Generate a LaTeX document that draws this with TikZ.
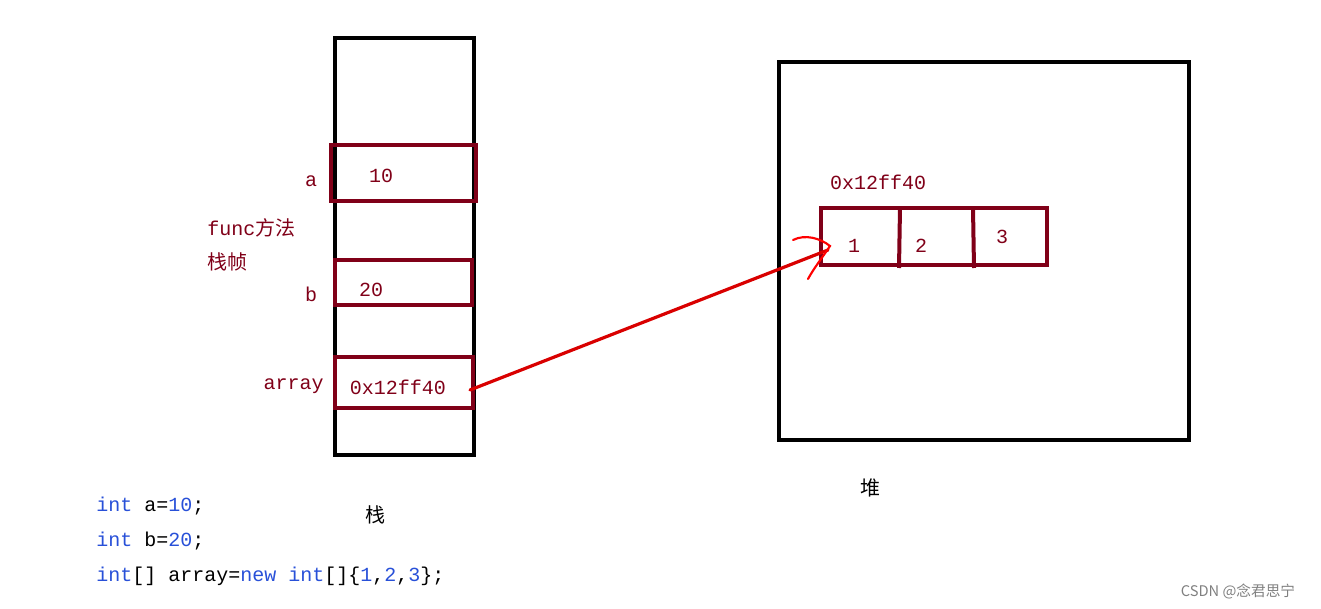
\documentclass[tikz,border=0pt]{standalone}
\usepackage{fontspec}
\setmonofont{Liberation Mono}
\newfontfamily\cjk{Noto Sans CJK SC}
\definecolor{dred}{HTML}{800018}
\definecolor{kw}{HTML}{2850D8}
\begin{document}
\begin{tikzpicture}[x=0.75pt,y=-0.75pt,
  blk/.style={draw=black,line width=2.4pt},
  cell/.style={draw=dred,line width=3pt},
  lbl/.style={text=dred,font=\ttfamily\fontsize{15}{17}\selectfont,inner sep=0pt},
  cn/.style={font=\cjk\fontsize{15}{17}\selectfont,inner sep=0pt},
  code/.style={font=\ttfamily\fontsize{15}{17}\selectfont,inner sep=0pt,anchor=west}]
\useasboundingbox (0,0) rectangle (1321,609);
\draw[blk] (335,38) rectangle (474,455);
\draw[cell] (331,145) rectangle (476,201);
\draw[cell] (335,260) rectangle (472,305);
\draw[cell] (335,357) rectangle (473,408);
\node[lbl] (la) at (311,181) {a};
\node[lbl] (v10) at (381,176) {10};
\node[lbl,text=dred,anchor=west] (fn) at (207,228) {func{\cjk 方法}};
\node[cn,text=dred,anchor=west] (zz) at (207,262) {栈帧};
\node[lbl] (lb) at (311,294) {b};
\node[lbl] (v20) at (371,290) {20};
\node[lbl,anchor=east] (larr) at (324,386) {array};
\node[lbl] (varr) at (398,387) {0x12ff40};
\draw[blk] (779,62) rectangle (1189,440);
\node[lbl] (haddr) at (878,182) {0x12ff40};
\draw[cell] (821,208) rectangle (1047,265);
\draw[cell] (900,208) -- (899,268);
\draw[cell] (973,208) -- (974,268);
\node[lbl] (e1) at (854,246) {1};
\node[lbl] (e2) at (921,246) {2};
\node[lbl] (e3) at (1002,237) {3};
\coordinate (s) at (470,390);
\coordinate (t) at (828,250);
\draw[red!85!black,line width=2.4pt,line cap=round] (s) -- (t);
\draw[red,line width=1.6pt,line cap=round] (793,240) .. controls (805,234) and (820,238) .. (830,246) .. controls (822,258) and (814,268) .. (808,279);
\node[cn] (stk) at (375,515) {栈};
\node[cn] (hp) at (870,488) {堆};
\node[code] (c1) at (96,506) {\textcolor{kw}{int} a=\textcolor{kw}{10};};
\node[code] (c2) at (96,541) {\textcolor{kw}{int} b=\textcolor{kw}{20};};
\node[code] (c3) at (96,576) {\textcolor{kw}{int}[] array=\textcolor{kw}{new int}[]\{\textcolor{kw}{1},\textcolor{kw}{2},\textcolor{kw}{3}\};};
\node[font=\cjk\fontsize{11}{13}\selectfont,text=gray,inner sep=0pt] (wm) at (1238,591) {CSDN @念君思宁};
\end{tikzpicture}
\end{document}
